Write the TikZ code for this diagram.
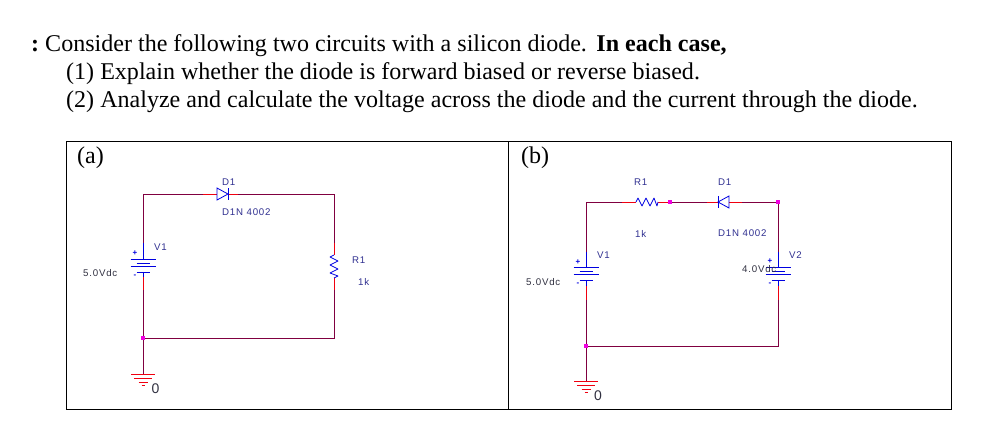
\documentclass[tikz,border=0pt]{standalone}
\usepackage{fontspec}
\setmainfont{Liberation Serif}
\setsansfont{Liberation Sans}
\definecolor{wirec}{HTML}{800040}
\definecolor{partc}{HTML}{0000E0}
\definecolor{pinc}{HTML}{F00010}
\definecolor{dotc}{HTML}{F000E0}
\definecolor{refc}{HTML}{303090}
\definecolor{valc}{HTML}{303040}
\newfontfamily\lblfont[LetterSpace=8]{Liberation Sans}
\tikzset{
  x=1pt,y=-1pt,
  wire/.style={draw=wirec,line width=0.85pt},
  pin/.style={draw=pinc,line width=0.85pt},
  part/.style={draw=partc,line width=0.8pt},
  gnd/.style={draw=pinc,line width=0.8pt},
  junction/.style={fill=dotc,inner sep=0pt,minimum size=4pt,shape=rectangle},
  frame/.style={draw=black,line width=1pt},
  body/.style={font=\fontsize{24.05}{26}\selectfont,anchor=west,inner sep=0pt,text=black},
  refl/.style={font=\lblfont\fontsize{9.7}{10}\selectfont,anchor=west,inner sep=0pt,text=refc},
  vall/.style={font=\lblfont\fontsize{9.7}{10}\selectfont,anchor=west,inner sep=0pt,text=valc},
  gndl/.style={font=\sffamily\fontsize{14}{15}\selectfont,anchor=west,inner sep=0pt,text=valc},
  pm/.style={font=\sffamily\bfseries\fontsize{8}{8}\selectfont,inner sep=0pt,text=partc},
}
% battery: #1 name, #2 x, #3 y of first long plate
\newcommand{\batt}[3]{%
  \coordinate (#1a) at (#2,#3);
  \coordinate (#1b) at (#2,#3+13);
  \draw[part] (#2-12.5,#3) -- (#2+12.5,#3);
  \draw[part] (#2-6.5,#3+4) -- (#2+6.5,#3+4);
  \draw[part] (#2-12.5,#3+7.5) -- (#2+12.5,#3+7.5);
  \draw[part] (#2-6.5,#3+13) -- (#2+6.5,#3+13);
}
% ground: #1 name, #2 x, #3 y
\newcommand{\grnd}[3]{%
  \coordinate (#1) at (#2,#3);
  \draw[gnd] (#2-12,#3) -- (#2+12,#3);
  \draw[gnd] (#2-9,#3+4) -- (#2+9,#3+4);
  \draw[gnd] (#2-4.5,#3+8) -- (#2+4.5,#3+8);
  \draw[gnd] (#2-1.5,#3+11) -- (#2+1.5,#3+11);
}
\begin{document}
\begin{tikzpicture}
\useasboundingbox (0,0) rectangle (990,445);
% text
\node[body] (t1) at (31,46) {\textbf{:}\hspace{-2pt} Consider the following two circuits with a silicon diode.\ \hspace{3.5pt}\textbf{In each case,}};
\node[body] (t2) at (66,74) {(1) Explain whether the diode is forward biased or reverse biased.};
\node[body] (t3) at (66,102) {(2) Analyze and calculate the voltage across the diode and the current through the diode.};
% frames
\draw[frame] (66.5,141) rectangle (508,409);
\draw[frame] (508,141) rectangle (951,409);
\node[body] (la) at (77,158) {(a)};
\node[body] (lb) at (521,158) {(b)};

%%%% circuit (a)
\coordinate (aTL) at (143,194);
\coordinate (aTR) at (334,194);
\coordinate (aBR) at (334,338);
\node[junction] (aJ) at (143,338) {};
\coordinate (aDa) at (217,194);
\coordinate (aDc) at (228,194);
\coordinate (aDal) at (203,194);
\coordinate (aDcr) at (238,194);
\coordinate (aRt) at (334,255);
\coordinate (aRb) at (334,278);
\coordinate (aRtp) at (334,243);
\coordinate (aRbp) at (334,290);
\coordinate (aVt) at (143,243);
\coordinate (aVr) at (143,277);
\coordinate (aVrp) at (143,290);
\batt{aV}{143}{259}
\grnd{aG}{143}{374}
\draw[wire] (aVt) -- (aTL) -- (aDal);
\draw[wire] (aDcr) -- (aTR) -- (aRtp);
\draw[wire] (aRbp) -- (aBR) -- (aJ);
\draw[wire] (aVrp) -- (aJ) -- (aG);
\draw[pin] (aDal) -- (aDa);
\draw[pin] (aDc) -- (aDcr);
\draw[pin] (aRtp) -- (aRt);
\draw[pin] (aRb) -- (aRbp);
\draw[pin] (aVr) -- (aVrp);
\draw[part] (aVt) -- (aVa);
\draw[part] (aVb) -- (aVr);
\draw[part] (217,188) -- (217,200) -- (228,194) -- cycle;
\draw[part] (228,188) -- (228,200);
\draw[part,line join=round] (aRt) -- (330,257) -- (338,261) -- (330,265) -- (338,269) -- (330,273) -- (338,276) -- (aRb);
\node[pm] (aP) at (135,253) {+};
\node[pm] (aM) at (135,276) {-};
\node[refl] (aD1) at (222,182.5) {D1};
\node[refl] (aD1m) at (222,212.5) {D1N 4002};
\node[refl] (aV1) at (154,247.5) {V1};
\node[vall] (aV1v) at (83,273.5) {5.0Vdc};
\node[refl] (aR1) at (352,260.5) {R1};
\node[refl] (aR1v) at (358,281.5) {1k};
\node[gndl] (aZ) at (151.5,388.5) {0};

%%%% circuit (b)
\coordinate (bTL) at (586,202);
\coordinate (bBL) at (586,346);
\coordinate (bBR) at (778,346);
\node[junction] (bJ) at (586,346) {};
\node[junction,minimum size=3.5pt] (bJ1) at (670,202) {};
\node[junction,minimum size=3.5pt] (bJ2) at (778,202) {};
\coordinate (bRl) at (636,202);
\coordinate (bRr) at (658,202);
\coordinate (bRlp) at (622,202);
\coordinate (bDlp) at (707,202);
\coordinate (bDc) at (718,202);
\coordinate (bDa) at (729,202);
\coordinate (bDrp) at (742,202);
\coordinate (bV1t) at (586,252);
\coordinate (bV1r) at (586,286);
\coordinate (bV1rp) at (586,300);
\coordinate (bV2t) at (778,252);
\coordinate (bV2r) at (778,286);
\coordinate (bV2rp) at (778,300);
\batt{bV}{586}{267}
\batt{bW}{778}{267}
\grnd{bG}{586}{381}
\draw[wire] (bV1t) -- (bTL) -- (bRlp);
\draw[wire] (bJ1) -- (bDlp);
\draw[wire] (bDrp) -- (bJ2) -- (bV2t);
\draw[wire] (bV1rp) -- (bJ) -- (bG);
\draw[wire] (bJ) -- (bBR) -- (bV2rp);
\draw[pin] (bRlp) -- (bRl);
\draw[pin] (bRr) -- (bJ1);
\draw[pin] (bDlp) -- (bDc);
\draw[pin] (bDa) -- (bDrp);
\draw[pin] (bV1r) -- (bV1rp);
\draw[pin] (bV2r) -- (bV2rp);
\draw[part] (bV1t) -- (bVa);
\draw[part] (bVb) -- (bV1r);
\draw[part] (bV2t) -- (bWa);
\draw[part] (bWb) -- (bV2r);
\draw[part,line join=round] (bRl) -- (638,198) -- (642,206) -- (646,198) -- (650,206) -- (654,198) -- (657,206) -- (bRr);
\draw[part] (718,196) -- (718,208);
\draw[part] (729,196) -- (729,208) -- (718,202) -- cycle;
\node[pm] (bP) at (578,262) {+};
\node[pm] (bM) at (578,284) {-};
\node[pm] (bP2) at (770,261) {+};
\node[pm] (bM2) at (770,284) {-};
\node[refl] (bR1) at (634,182.5) {R1};
\node[refl] (bR1v) at (635,233.5) {1k};
\node[refl] (bD1) at (718,182.5) {D1};
\node[refl] (bD1m) at (718,233.5) {D1N 4002};
\node[refl] (bV1) at (597,255.5) {V1};
\node[refl] (bV2) at (789,255.5) {V2};
\node[vall] (bV2v) at (742,269.5) {4.0Vdc};
\node[vall] (bV1v) at (526,282.5) {5.0Vdc};
\node[gndl] (bZ) at (594,395.5) {0};
\end{tikzpicture}
\end{document}
